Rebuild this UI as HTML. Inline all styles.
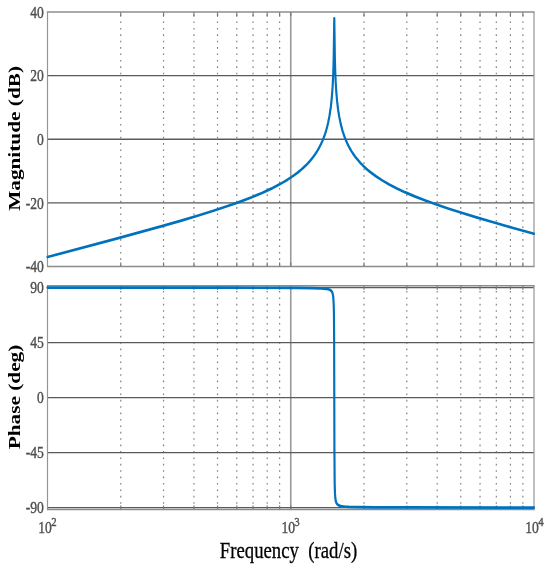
<!DOCTYPE html>
<html><head><meta charset="utf-8"><style>
html,body{margin:0;padding:0;background:#fff;}
body{width:550px;height:572px;overflow:hidden;}
svg{display:block;}
.mg{stroke:#808080;stroke-width:1.2;stroke-dasharray:1.6 4.8;fill:none;}
.Mg{stroke:#5a5a5a;stroke-width:1.3;fill:none;}
.Mgv{stroke:#999;stroke-width:1.6;fill:none;}
.tk{stroke:#777;stroke-width:1.2;}
.bxh{stroke:#8c8c8c;stroke-width:1.5;}
.bxv{stroke:#959595;stroke-width:1.2;}
.cv{stroke:#0072BD;stroke-width:2.7;fill:none;stroke-linejoin:round;stroke-linecap:round;}
.tl{font-family:"Liberation Serif",serif;font-size:17px;fill:#4f4f4f;stroke:#4f4f4f;stroke-width:0.4px;}
.yl{font-family:"Liberation Serif",serif;font-size:21.3px;font-weight:bold;fill:#000;}
.xl{font-family:"Liberation Serif",serif;font-size:23px;fill:#000;stroke:#000;stroke-width:0.3px;}
</style></head><body>
<svg width="550" height="572" viewBox="0 0 550 572">
<rect width="550" height="572" fill="#fff"/>
<g style="stroke-dashoffset:3.3"><line x1="120.73" y1="12.0" x2="120.73" y2="266.5" class="mg"/><line x1="163.56" y1="12.0" x2="163.56" y2="266.5" class="mg"/><line x1="193.95" y1="12.0" x2="193.95" y2="266.5" class="mg"/><line x1="217.52" y1="12.0" x2="217.52" y2="266.5" class="mg"/><line x1="236.79" y1="12.0" x2="236.79" y2="266.5" class="mg"/><line x1="253.07" y1="12.0" x2="253.07" y2="266.5" class="mg"/><line x1="267.18" y1="12.0" x2="267.18" y2="266.5" class="mg"/><line x1="279.62" y1="12.0" x2="279.62" y2="266.5" class="mg"/><line x1="363.98" y1="12.0" x2="363.98" y2="266.5" class="mg"/><line x1="406.81" y1="12.0" x2="406.81" y2="266.5" class="mg"/><line x1="437.20" y1="12.0" x2="437.20" y2="266.5" class="mg"/><line x1="460.77" y1="12.0" x2="460.77" y2="266.5" class="mg"/><line x1="480.04" y1="12.0" x2="480.04" y2="266.5" class="mg"/><line x1="496.32" y1="12.0" x2="496.32" y2="266.5" class="mg"/><line x1="510.43" y1="12.0" x2="510.43" y2="266.5" class="mg"/><line x1="522.87" y1="12.0" x2="522.87" y2="266.5" class="mg"/></g><line x1="290.75" y1="12.0" x2="290.75" y2="266.5" class="Mgv"/><line x1="47.5" y1="75.62" x2="534.0" y2="75.62" class="Mg"/><line x1="47.5" y1="139.25" x2="534.0" y2="139.25" class="Mg"/><line x1="47.5" y1="202.88" x2="534.0" y2="202.88" class="Mg"/><line x1="120.73" y1="12.0" x2="120.73" y2="16.0" class="tk"/><line x1="163.56" y1="12.0" x2="163.56" y2="16.0" class="tk"/><line x1="193.95" y1="12.0" x2="193.95" y2="16.0" class="tk"/><line x1="217.52" y1="12.0" x2="217.52" y2="16.0" class="tk"/><line x1="236.79" y1="12.0" x2="236.79" y2="16.0" class="tk"/><line x1="253.07" y1="12.0" x2="253.07" y2="16.0" class="tk"/><line x1="267.18" y1="12.0" x2="267.18" y2="16.0" class="tk"/><line x1="279.62" y1="12.0" x2="279.62" y2="16.0" class="tk"/><line x1="363.98" y1="12.0" x2="363.98" y2="16.0" class="tk"/><line x1="406.81" y1="12.0" x2="406.81" y2="16.0" class="tk"/><line x1="437.20" y1="12.0" x2="437.20" y2="16.0" class="tk"/><line x1="460.77" y1="12.0" x2="460.77" y2="16.0" class="tk"/><line x1="480.04" y1="12.0" x2="480.04" y2="16.0" class="tk"/><line x1="496.32" y1="12.0" x2="496.32" y2="16.0" class="tk"/><line x1="510.43" y1="12.0" x2="510.43" y2="16.0" class="tk"/><line x1="522.87" y1="12.0" x2="522.87" y2="16.0" class="tk"/><line x1="290.75" y1="12.0" x2="290.75" y2="16.0" class="tk"/><line x1="120.73" y1="266.5" x2="120.73" y2="262.5" class="tk"/><line x1="163.56" y1="266.5" x2="163.56" y2="262.5" class="tk"/><line x1="193.95" y1="266.5" x2="193.95" y2="262.5" class="tk"/><line x1="217.52" y1="266.5" x2="217.52" y2="262.5" class="tk"/><line x1="236.79" y1="266.5" x2="236.79" y2="262.5" class="tk"/><line x1="253.07" y1="266.5" x2="253.07" y2="262.5" class="tk"/><line x1="267.18" y1="266.5" x2="267.18" y2="262.5" class="tk"/><line x1="279.62" y1="266.5" x2="279.62" y2="262.5" class="tk"/><line x1="363.98" y1="266.5" x2="363.98" y2="262.5" class="tk"/><line x1="406.81" y1="266.5" x2="406.81" y2="262.5" class="tk"/><line x1="437.20" y1="266.5" x2="437.20" y2="262.5" class="tk"/><line x1="460.77" y1="266.5" x2="460.77" y2="262.5" class="tk"/><line x1="480.04" y1="266.5" x2="480.04" y2="262.5" class="tk"/><line x1="496.32" y1="266.5" x2="496.32" y2="262.5" class="tk"/><line x1="510.43" y1="266.5" x2="510.43" y2="262.5" class="tk"/><line x1="522.87" y1="266.5" x2="522.87" y2="262.5" class="tk"/><line x1="290.75" y1="266.5" x2="290.75" y2="262.5" class="tk"/><line x1="46.9" y1="12.0" x2="534.6" y2="12.0" class="bxh"/><line x1="46.9" y1="266.5" x2="534.6" y2="266.5" class="bxh"/><line x1="47.5" y1="12.0" x2="47.5" y2="266.5" class="bxv"/><line x1="534.0" y1="12.0" x2="534.0" y2="266.5" class="bxv"/>
<g style="stroke-dashoffset:1.2"><line x1="120.73" y1="285.8" x2="120.73" y2="509.6" class="mg"/><line x1="163.56" y1="285.8" x2="163.56" y2="509.6" class="mg"/><line x1="193.95" y1="285.8" x2="193.95" y2="509.6" class="mg"/><line x1="217.52" y1="285.8" x2="217.52" y2="509.6" class="mg"/><line x1="236.79" y1="285.8" x2="236.79" y2="509.6" class="mg"/><line x1="253.07" y1="285.8" x2="253.07" y2="509.6" class="mg"/><line x1="267.18" y1="285.8" x2="267.18" y2="509.6" class="mg"/><line x1="279.62" y1="285.8" x2="279.62" y2="509.6" class="mg"/><line x1="363.98" y1="285.8" x2="363.98" y2="509.6" class="mg"/><line x1="406.81" y1="285.8" x2="406.81" y2="509.6" class="mg"/><line x1="437.20" y1="285.8" x2="437.20" y2="509.6" class="mg"/><line x1="460.77" y1="285.8" x2="460.77" y2="509.6" class="mg"/><line x1="480.04" y1="285.8" x2="480.04" y2="509.6" class="mg"/><line x1="496.32" y1="285.8" x2="496.32" y2="509.6" class="mg"/><line x1="510.43" y1="285.8" x2="510.43" y2="509.6" class="mg"/><line x1="522.87" y1="285.8" x2="522.87" y2="509.6" class="mg"/></g><line x1="290.75" y1="285.8" x2="290.75" y2="509.6" class="Mgv"/><line x1="47.5" y1="287.60" x2="534.0" y2="287.60" class="Mg"/><line x1="47.5" y1="342.60" x2="534.0" y2="342.60" class="Mg"/><line x1="47.5" y1="397.60" x2="534.0" y2="397.60" class="Mg"/><line x1="47.5" y1="452.60" x2="534.0" y2="452.60" class="Mg"/><line x1="47.5" y1="507.60" x2="534.0" y2="507.60" class="Mg"/><line x1="120.73" y1="285.8" x2="120.73" y2="289.8" class="tk"/><line x1="163.56" y1="285.8" x2="163.56" y2="289.8" class="tk"/><line x1="193.95" y1="285.8" x2="193.95" y2="289.8" class="tk"/><line x1="217.52" y1="285.8" x2="217.52" y2="289.8" class="tk"/><line x1="236.79" y1="285.8" x2="236.79" y2="289.8" class="tk"/><line x1="253.07" y1="285.8" x2="253.07" y2="289.8" class="tk"/><line x1="267.18" y1="285.8" x2="267.18" y2="289.8" class="tk"/><line x1="279.62" y1="285.8" x2="279.62" y2="289.8" class="tk"/><line x1="363.98" y1="285.8" x2="363.98" y2="289.8" class="tk"/><line x1="406.81" y1="285.8" x2="406.81" y2="289.8" class="tk"/><line x1="437.20" y1="285.8" x2="437.20" y2="289.8" class="tk"/><line x1="460.77" y1="285.8" x2="460.77" y2="289.8" class="tk"/><line x1="480.04" y1="285.8" x2="480.04" y2="289.8" class="tk"/><line x1="496.32" y1="285.8" x2="496.32" y2="289.8" class="tk"/><line x1="510.43" y1="285.8" x2="510.43" y2="289.8" class="tk"/><line x1="522.87" y1="285.8" x2="522.87" y2="289.8" class="tk"/><line x1="290.75" y1="285.8" x2="290.75" y2="289.8" class="tk"/><line x1="120.73" y1="509.6" x2="120.73" y2="505.6" class="tk"/><line x1="163.56" y1="509.6" x2="163.56" y2="505.6" class="tk"/><line x1="193.95" y1="509.6" x2="193.95" y2="505.6" class="tk"/><line x1="217.52" y1="509.6" x2="217.52" y2="505.6" class="tk"/><line x1="236.79" y1="509.6" x2="236.79" y2="505.6" class="tk"/><line x1="253.07" y1="509.6" x2="253.07" y2="505.6" class="tk"/><line x1="267.18" y1="509.6" x2="267.18" y2="505.6" class="tk"/><line x1="279.62" y1="509.6" x2="279.62" y2="505.6" class="tk"/><line x1="363.98" y1="509.6" x2="363.98" y2="505.6" class="tk"/><line x1="406.81" y1="509.6" x2="406.81" y2="505.6" class="tk"/><line x1="437.20" y1="509.6" x2="437.20" y2="505.6" class="tk"/><line x1="460.77" y1="509.6" x2="460.77" y2="505.6" class="tk"/><line x1="480.04" y1="509.6" x2="480.04" y2="505.6" class="tk"/><line x1="496.32" y1="509.6" x2="496.32" y2="505.6" class="tk"/><line x1="510.43" y1="509.6" x2="510.43" y2="505.6" class="tk"/><line x1="522.87" y1="509.6" x2="522.87" y2="505.6" class="tk"/><line x1="290.75" y1="509.6" x2="290.75" y2="505.6" class="tk"/><line x1="46.9" y1="285.8" x2="534.6" y2="285.8" class="bxh"/><line x1="46.9" y1="509.6" x2="534.6" y2="509.6" class="bxh"/><line x1="47.5" y1="285.8" x2="47.5" y2="509.6" class="bxv"/><line x1="534.0" y1="285.8" x2="534.0" y2="509.6" class="bxv"/>
<g transform="scale(0.8,1)">
<path class="cv" d="M59.38,257.01 L144.49,238.88 L176.32,231.94 L203.57,225.86 L227.65,220.33 L248.88,215.26 L267.76,210.53 L284.64,206.06 L300.45,201.58 L314.68,197.21 L327.51,192.91 L339.07,188.63 L349.50,184.31 L354.33,182.11 L358.89,179.91 L363.24,177.66 L367.34,175.39 L371.21,173.10 L374.89,170.74 L378.32,168.36 L381.55,165.95 L384.59,163.48 L387.47,160.92 L390.18,158.30 L392.70,155.62 L395.08,152.86 L397.30,150.00 L399.36,147.05 L401.28,144.01 L403.04,140.89 L404.70,137.61 L406.22,134.21 L407.61,130.67 L408.89,126.98 L410.06,123.12 L411.98,115.30 L413.56,106.67 L414.83,97.04 L415.82,86.17 L416.53,74.38 L417.06,60.61 L417.86,18.36 L418.57,57.80 L419.01,70.60 L419.59,81.66 L420.38,92.00 L421.38,101.18 L422.61,109.46 L424.10,116.98 L425.98,124.26 L428.21,130.96 L430.81,137.15 L433.82,142.95 L437.25,148.37 L439.17,151.00 L441.17,153.51 L443.30,155.95 L445.58,158.35 L450.54,162.97 L453.34,165.29 L456.32,167.58 L459.45,169.81 L462.76,172.00 L469.91,176.26 L477.82,180.40 L486.54,184.45 L496.15,188.43 L506.73,192.39 L518.35,196.35 L530.91,200.28 L544.74,204.30 L560.01,208.46 L576.92,212.80 L595.62,217.38 L616.60,222.31 L640.32,227.70 L667.50,233.72"/>
<path class="cv" d="M59.38,287.61 L286.86,287.68 L371.91,287.86 L390.39,288.05 L401.46,288.35 L405.19,288.57 L408.07,288.86 L410.30,289.23 L412.02,289.71 L413.35,290.34 L414.38,291.14 L415.18,292.19 L415.79,293.55 L416.26,295.30 L416.63,297.57 L417.13,304.34 L417.44,315.30 L417.63,333.37 L418.03,451.13 L418.36,483.80 L418.70,493.14 L419.25,498.81 L419.65,500.75 L420.16,502.26 L420.82,503.44 L421.66,504.36 L422.80,505.10 L424.27,505.68 L426.19,506.12 L428.69,506.46 L431.93,506.73 L436.13,506.93 L448.72,507.20 L470.09,507.37 L506.28,507.47 L667.50,507.57"/>
</g>
<g class="tl" text-anchor="end">
<text transform="translate(43.8,17.80) scale(0.8,1)">40</text>
<text transform="translate(43.8,81.42) scale(0.8,1)">20</text>
<text transform="translate(43.8,145.05) scale(0.8,1)">0</text>
<text transform="translate(43.8,208.68) scale(0.8,1)">-20</text>
<text transform="translate(43.8,272.30) scale(0.8,1)">-40</text>
<text transform="translate(43.8,293.40) scale(0.8,1)">90</text>
<text transform="translate(43.8,348.40) scale(0.8,1)">45</text>
<text transform="translate(43.8,403.40) scale(0.8,1)">0</text>
<text transform="translate(43.8,458.40) scale(0.8,1)">-45</text>
<text transform="translate(43.8,513.40) scale(0.8,1)">-90</text>
</g>
<g class="tl">
<text transform="translate(38.20,533.3) scale(0.8,1)">10<tspan dx="-0.8" dy="-7" font-size="13.5">2</tspan></text>
<text transform="translate(281.40,533.3) scale(0.8,1)">10<tspan dx="-0.8" dy="-7" font-size="13.5">3</tspan></text>
<text transform="translate(525.30,533.3) scale(0.8,1)">10<tspan dx="-0.8" dy="-7" font-size="13.5">4</tspan></text>
</g>
<text class="yl" transform="translate(20.0,138.4) scale(0.83,1) rotate(-90)" text-anchor="middle">Magnitude (dB)</text>
<text class="yl" transform="translate(20.0,397.0) scale(0.83,1) rotate(-90)" text-anchor="middle">Phase (deg)</text>
<text class="xl" transform="translate(288.5,557.5) scale(0.815,1)" text-anchor="middle">Frequency&#160; (rad/s)</text>
</svg>
</body></html>
